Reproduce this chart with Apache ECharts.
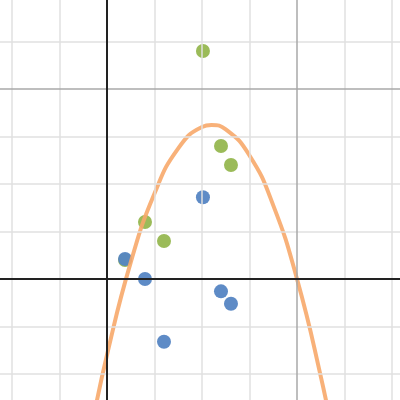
<!DOCTYPE html>
<html><head><meta charset="utf-8">
<script src="https://cdn.jsdelivr.net/npm/echarts@6/dist/echarts.min.js"></script>
<style>html,body{margin:0;padding:0;background:#fff}#c{width:400px;height:400px}</style>
</head><body><div id="c"></div>
<script>
const greenPts = [[1.01,2.40],[1.2,1.40],[1.305,1.20],[0.4,0.60],[0.6,0.40],[0.19,0.20]];
const bluePts = [[1.01,0.86],[0.19,0.21],[0.4,0.0],[1.2,-0.13],[1.305,-0.26],[0.6,-0.66]];
const curvePts = [[-0.15,-1.505],[0,-0.8],[0.25,0.175],[0.5,0.9],[0.75,1.375],[1.0,1.6],[1.1,1.62],[1.25,1.575],[1.5,1.3],[1.75,0.775],[2.0,0],[2.25,-1.025],[2.4,-1.76]];
const minorX = [-1,-0.5,0.5,1,1.5,2.5,3];
const majorX = [2];
const minorY = [-1,-0.5,0.5,1,1.5,2.5];
const majorY = [2];
const X0=-1.126, X1=3.084, Y0=-1.274, Y1=2.937;
function vl(arr,c,w){return arr.map(v=>({xAxis:v,lineStyle:{color:c,width:w,type:'solid'}}));}
function hl(arr,c,w){return arr.map(v=>({yAxis:v,lineStyle:{color:c,width:w,type:'solid'}}));}
const chart = echarts.init(document.getElementById('c'));
chart.setOption({
  animation:false,
  grid:{left:0,right:0,top:0,bottom:0},
  xAxis:{type:'value',min:X0,max:X1,show:false,splitLine:{show:false}},
  yAxis:{type:'value',min:Y0,max:Y1,show:false,splitLine:{show:false}},
  series:[
    {type:'line',data:[],silent:true,markLine:{symbol:'none',silent:true,label:{show:false},
      data:[...vl(minorX,'#e0e0e0',1.5),...hl(minorY,'#e0e0e0',1.5),...vl(majorX,'#a8a8a8',1.5),...hl(majorY,'#a8a8a8',1.5),...vl([0],'#222',2),...hl([0],'#222',2)]}},
    {type:'line',data:curvePts,smooth:true,showSymbol:false,clip:true,lineStyle:{color:'#f7a86a',width:4,opacity:0.9}},
    {type:'scatter',data:greenPts,symbolSize:14,itemStyle:{color:'#9bbb59',opacity:1}},
    {type:'scatter',data:bluePts,symbolSize:14,itemStyle:{color:'#5585c3',opacity:0.95}}
  ]
});
</script></body></html>
